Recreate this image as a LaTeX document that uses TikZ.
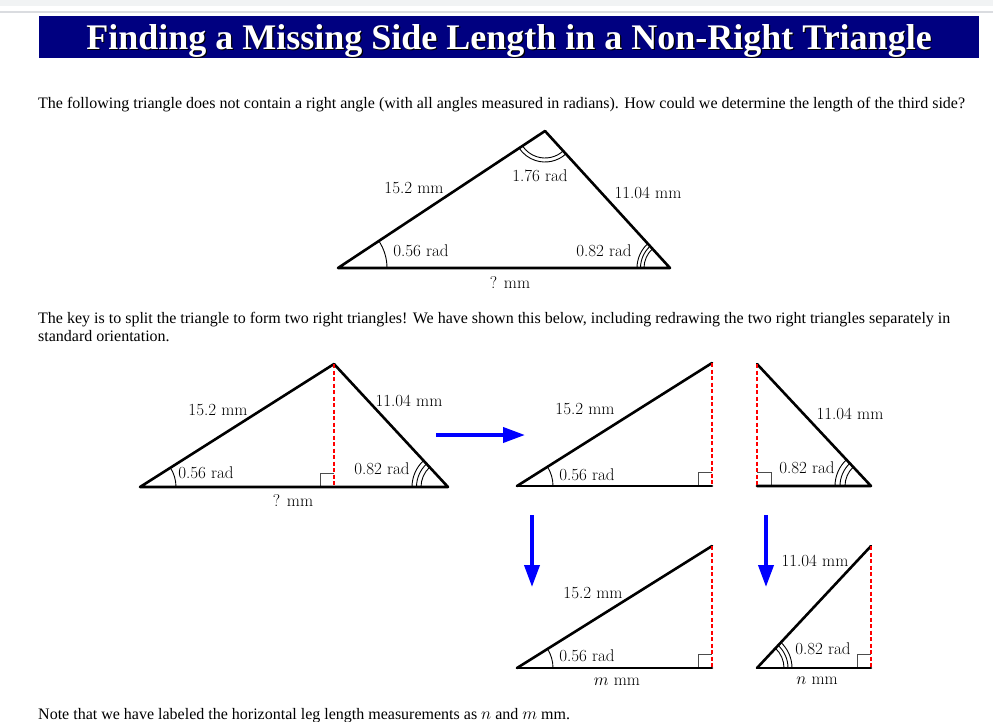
\documentclass[tikz,border=0pt]{standalone}
\usepackage{fontspec}
\newfontfamily\timesfont{Liberation Serif}
\usetikzlibrary{arrows.meta}
\definecolor{navy}{HTML}{000080}
\definecolor{stripgray}{HTML}{F1F3F4}
\definecolor{linegray}{HTML}{DADCE0}
\tikzset{
  side/.style={line width=2.6pt, line cap=round, line join=round},
  alt/.style={red, line width=2.2pt, dash pattern=on 4pt off 2.5pt},
  sq/.style={black!70, line width=0.9pt},
  ang/.style={line width=0.9pt},
  lbl/.style={font=\fontsize{17}{19}\selectfont, inner sep=0pt},
  body/.style={font=\timesfont\fontsize{16}{19}\selectfont, inner sep=0pt, anchor=base west},
  bluearrow/.style={blue, line width=3.8pt, -{Triangle[length=22pt,width=15pt]}},
}
\begin{document}
\begin{tikzpicture}[x=1pt,y=-1pt]
\useasboundingbox (0,0) rectangle (993,721);
\fill[white] (0,0) rectangle (993,721);
\fill[stripgray] (0,0) rectangle (993,6);
\draw[linegray, line width=1.2pt] (0,12) -- (993,12);
% title
\fill[navy] (39,16) rectangle (979,58);
\node[font=\timesfont\bfseries\fontsize{36}{40}\selectfont, text=black, anchor=base] at (510.2,50.2) {Finding a Missing Side Length in a Non-Right Triangle};
\node[font=\timesfont\bfseries\fontsize{36}{40}\selectfont, text=white, anchor=base] (title) at (509,49) {Finding a Missing Side Length in a Non-Right Triangle};
% paragraph 1
\node[body] (p1) at (38,108) {The following triangle does not contain a right angle (with all angles measured in radians). How could we determine the length of the third side?};
% top triangle
\coordinate (A) at (338,268);
\coordinate (B) at (545,131);
\coordinate (C) at (670,268);
\draw[ang] (A) ++(49,0) arc[start angle=0, end angle=-33.5, radius=49];
\draw[ang] (B) ++(47.6:27) arc[start angle=47.6, end angle=146.5, radius=27];
\draw[ang] (B) ++(47.6:31) arc[start angle=47.6, end angle=146.5, radius=31];
\foreach \r in {26,29.5,33} \draw[ang] (C) ++(-\r,0) arc[start angle=180, end angle=227.6, radius=\r];
\draw[side] (A) -- (B) -- (C) -- cycle;
\node[lbl] (t1a) at (414,188) {15.2 mm};
\node[lbl] (t1b) at (540,176) {1.76 rad};
\node[lbl] (t1c) at (648,193) {11.04 mm};
\node[lbl] (t1d) at (421,251) {0.56 rad};
\node[lbl] (t1e) at (604,251) {0.82 rad};
\node[lbl] (t1f) at (510,283) {? mm};
% paragraph 2
\node[body] (p2) at (38,323) {The key is to split the triangle to form two right triangles! We have shown this below, including redrawing the two right triangles separately in};
\node[body] (p3) at (38,341) {standard orientation.};
% second triangle
\coordinate (D) at (140,487);
\coordinate (E) at (334,364);
\coordinate (F) at (448,487);
\coordinate (G) at (334,487);
\draw[sq] (320,487) -- (320,473) -- (334,473);
\draw[ang] (D) ++(36,0) arc[start angle=0, end angle=-32.4, radius=36];
\foreach \r in {27,31.5,36} \draw[ang] (F) ++(-\r,0) arc[start angle=180, end angle=227.2, radius=\r];
\draw[side] (D) -- (E) -- (F) -- cycle;
\draw[alt] (E) -- (G);
\node[lbl] (t2a) at (218,410) {15.2 mm};
\node[lbl] (t2b) at (409,401) {11.04 mm};
\node[lbl] (t2c) at (206,473) {0.56 rad};
\node[lbl] (t2d) at (382,469) {0.82 rad};
\node[lbl] (t2e) at (293,501) {? mm};
% arrow right
\coordinate (h1) at (436,435);
\coordinate (h2) at (525,435);
\draw[bluearrow] (h1) -- (h2);
% third triangle
\coordinate (H) at (517,486);
\coordinate (I) at (712,363);
\coordinate (J) at (712,486);
\draw[sq] (698,486) -- (698,472) -- (712,472);
\draw[ang] (H) ++(36,0) arc[start angle=0, end angle=-32.2, radius=36];
\draw[side] (H) -- (I);
\draw[side] (H) -- (J);
\draw[alt] (I) -- (J);
\node[lbl] (t3a) at (585,409) {15.2 mm};
\node[lbl] (t3b) at (587,475) {0.56 rad};
% fourth triangle
\coordinate (K) at (757,486);
\coordinate (L) at (757,364);
\coordinate (M) at (871,486);
\draw[sq] (757,472) -- (771,472) -- (771,486);
\foreach \r in {26,31,36} \draw[ang] (M) ++(-\r,0) arc[start angle=180, end angle=227, radius=\r];
\draw[side] (L) -- (M) -- (K);
\draw[alt] (L) -- (K);
\node[lbl] (t4a) at (850,414) {11.04 mm};
\node[lbl] (t4b) at (807,468) {0.82 rad};
% down arrows
\coordinate (v1) at (532,515);
\coordinate (v2) at (532,587);
\coordinate (w1) at (766,515);
\coordinate (w2) at (766,587);
\draw[bluearrow] (v1) -- (v2);
\draw[bluearrow] (w1) -- (w2);
% fifth triangle
\coordinate (N) at (517,668);
\coordinate (O) at (712,546);
\coordinate (P) at (712,668);
\draw[sq] (698,668) -- (698,654) -- (712,654);
\draw[ang] (N) ++(36,0) arc[start angle=0, end angle=-32.0, radius=36];
\draw[side] (N) -- (O);
\draw[side] (N) -- (P);
\draw[alt] (O) -- (P);
\node[lbl] (t5a) at (593,593) {15.2 mm};
\node[lbl] (t5b) at (587,656) {0.56 rad};
\node[lbl] (t5c) at (617,682) {$m$ mm};
% sixth triangle
\coordinate (Q) at (757,668);
\coordinate (R) at (871,546);
\coordinate (S) at (871,668);
\draw[sq] (857,668) -- (857,654) -- (871,654);
\foreach \r in {27,31,35} \draw[ang] (Q) ++(\r,0) arc[start angle=0, end angle=-47, radius=\r];
\draw[side] (Q) -- (R);
\draw[side] (Q) -- (S);
\draw[alt] (R) -- (S);
\node[lbl] (t6a) at (815,561) {11.04 mm};
\node[lbl] (t6b) at (823,649) {0.82 rad};
\node[lbl] (t6c) at (817,681) {$n$ mm};
% note
\node[body] (p4) at (38,719) {Note that we have labeled the horizontal leg length measurements as $n$ and $m$ mm.};
\end{tikzpicture}
\end{document}
